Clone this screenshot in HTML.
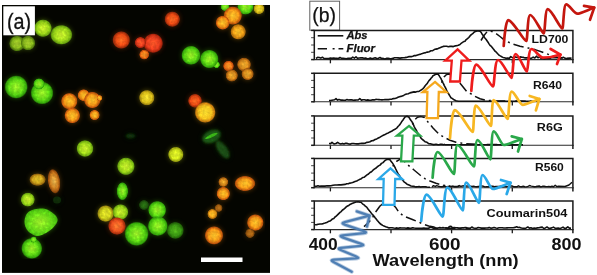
<!DOCTYPE html>
<html><head><meta charset="utf-8"><title>figure</title><style>html,body{margin:0;padding:0;background:#fff}svg{display:block}</style></head><body>
<svg width="597" height="275" viewBox="0 0 597 275" font-family="'Liberation Sans', sans-serif">
<defs>
<radialGradient id="cg" cx="50%" cy="50%" r="50%"><stop offset="0" stop-color="#a2f22a"/><stop offset="0.6" stop-color="#62de16"/><stop offset="0.88" stop-color="#34a80a"/><stop offset="1" stop-color="#34a80a" stop-opacity="0"/></radialGradient>
<radialGradient id="cgdd" cx="50%" cy="50%" r="50%"><stop offset="0" stop-color="#2c7814"/><stop offset="0.6" stop-color="#246410"/><stop offset="0.88" stop-color="#18400a"/><stop offset="1" stop-color="#18400a" stop-opacity="0"/></radialGradient>
<radialGradient id="cgd" cx="50%" cy="50%" r="50%"><stop offset="0" stop-color="#55b81c"/><stop offset="0.6" stop-color="#3a9a12"/><stop offset="0.88" stop-color="#246808"/><stop offset="1" stop-color="#246808" stop-opacity="0"/></radialGradient>
<radialGradient id="cyg" cx="50%" cy="50%" r="50%"><stop offset="0" stop-color="#ccf030"/><stop offset="0.6" stop-color="#a6e01c"/><stop offset="0.88" stop-color="#6ca810"/><stop offset="1" stop-color="#6ca810" stop-opacity="0"/></radialGradient>
<radialGradient id="cygd" cx="50%" cy="50%" r="50%"><stop offset="0" stop-color="#a8d02c"/><stop offset="0.6" stop-color="#88b81c"/><stop offset="0.88" stop-color="#507c0c"/><stop offset="1" stop-color="#507c0c" stop-opacity="0"/></radialGradient>
<radialGradient id="cy" cx="50%" cy="50%" r="50%"><stop offset="0" stop-color="#f4e034"/><stop offset="0.6" stop-color="#e4c81c"/><stop offset="0.88" stop-color="#a88c10"/><stop offset="1" stop-color="#a88c10" stop-opacity="0"/></radialGradient>
<radialGradient id="cyo" cx="50%" cy="50%" r="50%"><stop offset="0" stop-color="#fcc42c"/><stop offset="0.6" stop-color="#f4a418"/><stop offset="0.88" stop-color="#b06c0c"/><stop offset="1" stop-color="#b06c0c" stop-opacity="0"/></radialGradient>
<radialGradient id="co" cx="50%" cy="50%" r="50%"><stop offset="0" stop-color="#fcc62c"/><stop offset="0.6" stop-color="#f89c18"/><stop offset="0.88" stop-color="#c4560c"/><stop offset="1" stop-color="#c4560c" stop-opacity="0"/></radialGradient>
<radialGradient id="cod" cx="50%" cy="50%" r="50%"><stop offset="0" stop-color="#c87c1c"/><stop offset="0.6" stop-color="#a86010"/><stop offset="0.88" stop-color="#70400a"/><stop offset="1" stop-color="#70400a" stop-opacity="0"/></radialGradient>
<radialGradient id="cro" cx="50%" cy="50%" r="50%"><stop offset="0" stop-color="#fc6c24"/><stop offset="0.6" stop-color="#f04c14"/><stop offset="0.88" stop-color="#a02c0a"/><stop offset="1" stop-color="#a02c0a" stop-opacity="0"/></radialGradient>
<radialGradient id="cr" cx="50%" cy="50%" r="50%"><stop offset="0" stop-color="#fc5828"/><stop offset="0.6" stop-color="#f04020"/><stop offset="0.88" stop-color="#a8240c"/><stop offset="1" stop-color="#a8240c" stop-opacity="0"/></radialGradient>
<radialGradient id="co2" cx="50%" cy="50%" r="50%"><stop offset="0" stop-color="#fc9c28"/><stop offset="0.6" stop-color="#f07818"/><stop offset="0.88" stop-color="#b8440a"/><stop offset="1" stop-color="#b8440a" stop-opacity="0"/></radialGradient>
<radialGradient id="cob" cx="50%" cy="50%" r="50%"><stop offset="0" stop-color="#f0b030"/><stop offset="0.6" stop-color="#dc8c1c"/><stop offset="0.88" stop-color="#9c540c"/><stop offset="1" stop-color="#9c540c" stop-opacity="0"/></radialGradient>
<radialGradient id="cyy" cx="50%" cy="50%" r="50%"><stop offset="0" stop-color="#fce030"/><stop offset="0.6" stop-color="#f8c820"/><stop offset="0.88" stop-color="#d08010"/><stop offset="1" stop-color="#d08010" stop-opacity="0"/></radialGradient>
<radialGradient id="cyd" cx="50%" cy="50%" r="50%"><stop offset="0" stop-color="#e4c428"/><stop offset="0.6" stop-color="#d0a41c"/><stop offset="0.88" stop-color="#90600c"/><stop offset="1" stop-color="#90600c" stop-opacity="0"/></radialGradient>
<radialGradient id="coe" cx="50%" cy="50%" r="50%"><stop offset="0" stop-color="#e8b850"/><stop offset="0.6" stop-color="#d08020"/><stop offset="0.88" stop-color="#984c0c"/><stop offset="1" stop-color="#984c0c" stop-opacity="0"/></radialGradient>
<radialGradient id="cro2" cx="50%" cy="50%" r="50%"><stop offset="0" stop-color="#fc8030"/><stop offset="0.6" stop-color="#f05420"/><stop offset="0.88" stop-color="#b0300c"/><stop offset="1" stop-color="#b0300c" stop-opacity="0"/></radialGradient>
<radialGradient id="cy3" cx="50%" cy="50%" r="50%"><stop offset="0" stop-color="#e4f42c"/><stop offset="0.6" stop-color="#d0e41c"/><stop offset="0.88" stop-color="#98a010"/><stop offset="1" stop-color="#98a010" stop-opacity="0"/></radialGradient>
<radialGradient id="cy2" cx="50%" cy="50%" r="50%"><stop offset="0" stop-color="#e4e42c"/><stop offset="0.6" stop-color="#d0d41c"/><stop offset="0.88" stop-color="#a08c10"/><stop offset="1" stop-color="#a08c10" stop-opacity="0"/></radialGradient>
<filter id="bl" x="0" y="0" width="100%" height="100%" color-interpolation-filters="sRGB"><feGaussianBlur in="SourceGraphic" stdDeviation="0.7" result="b"/><feTurbulence type="fractalNoise" baseFrequency="0.35" numOctaves="2" seed="3" result="n"/><feColorMatrix in="n" type="matrix" values="0 0 0 0 1  0 0 0 0 1  0 0 0 0 1  1.6 0 0 0 -0.25" result="m"/><feComposite in="b" in2="m" operator="arithmetic" k1="0.3" k2="0.8" k3="0" k4="0"/></filter>
<radialGradient id="cgflat" cx="48%" cy="50%" r="58%"><stop offset="0" stop-color="#a0f02a"/><stop offset="0.65" stop-color="#62dc16"/><stop offset="1" stop-color="#34a40a"/></radialGradient>
<filter id="bl2" x="-20%" y="-20%" width="140%" height="140%"><feGaussianBlur stdDeviation="1.3"/></filter>
<filter id="glow" x="0" y="0" width="100%" height="100%"><feGaussianBlur stdDeviation="2.6"/></filter>
<filter id="sh" x="-20%" y="-20%" width="140%" height="140%"><feGaussianBlur stdDeviation="0.7"/></filter>
<clipPath id="cpA"><rect x="2" y="5" width="268" height="267.9"/></clipPath>
</defs>
<rect width="100%" height="100%" fill="#fff"/>
<rect x="2" y="5" width="268" height="267.9" fill="#040500"/>
<g clip-path="url(#cpA)"><g filter="url(#glow)" opacity="0.45"><use href="#cells"/></g><g filter="url(#bl)"><g id="cells">
<g filter="url(#bl2)"><ellipse cx="211.5" cy="136.5" rx="9.5" ry="5.8" fill="#1f5c14" transform="rotate(-25 211.5 136.5)"/><ellipse cx="222.7" cy="149.7" rx="4.3" ry="10" fill="#1b5012" transform="rotate(-35 222.7 149.7)"/><ellipse cx="130.5" cy="136" rx="4.5" ry="2.2" fill="#123608"/></g>
<ellipse cx="211.4" cy="135.9" rx="6.8" ry="1.5" fill="#3cba18" transform="rotate(-24.5 211.4 135.9)"/>
<ellipse cx="54" cy="181.3" rx="6.3" ry="12.6" fill="url(#coe)" transform="rotate(-8 54 181.3)"/><ellipse cx="57" cy="200" rx="4" ry="3.5" fill="#0f2c08"/>
<path d="M24.5,221.5 C24.7,218.2 25.9,213.7 29,211.5 C32.1,209.3 38.8,208.1 43,208.5 C47.2,208.9 51.6,211.9 54,214 C56.4,216.1 58.1,218.3 57.5,221 C56.9,223.7 53.8,227.5 50.5,230 C47.2,232.5 41.8,235.8 38,236 C34.2,236.2 30.2,233.4 28,231 C25.8,228.6 24.3,224.8 24.5,221.5Z" fill="url(#cgflat)"/>
<circle cx="43" cy="28.2" r="9.0" fill="url(#cyg)"/>
<ellipse cx="61.4" cy="34.8" rx="11.2" ry="10.0" fill="url(#cyg)"/>
<circle cx="17" cy="43.5" r="8.0" fill="url(#cygd)"/>
<circle cx="28" cy="43" r="7.5" fill="url(#cygd)"/>
<circle cx="16.2" cy="87" r="11.7" fill="url(#cg)"/>
<circle cx="42" cy="93" r="11.5" fill="url(#cg)"/>
<circle cx="39" cy="84" r="5.8" fill="url(#cg)"/>
<circle cx="69.3" cy="101.2" r="8.4" fill="url(#co)"/>
<circle cx="83.6" cy="95.2" r="6.1" fill="url(#co)"/>
<circle cx="92.3" cy="100" r="8.5" fill="url(#co)"/>
<circle cx="99.5" cy="98" r="3.0" fill="url(#co)"/>
<circle cx="72.3" cy="115.5" r="8.0" fill="url(#co)"/>
<circle cx="94.6" cy="115" r="5.3" fill="url(#co)"/>
<circle cx="121.3" cy="40" r="9.0" fill="url(#cro)"/>
<circle cx="153.2" cy="43.2" r="10.0" fill="url(#cr)"/>
<circle cx="140.4" cy="42.6" r="5.8" fill="url(#cr)"/>
<circle cx="144.2" cy="54.6" r="5.1" fill="url(#co2)"/>
<circle cx="172.3" cy="19.2" r="7.9" fill="url(#cro)"/>
<circle cx="245.5" cy="6.5" r="8.3" fill="url(#cg)"/>
<circle cx="216.6" cy="64.8" r="3.4" fill="url(#cg)"/>
<circle cx="225" cy="6.5" r="4.6" fill="url(#cg)"/>
<circle cx="259" cy="8.7" r="5.6" fill="url(#cy)"/>
<circle cx="232.8" cy="15.6" r="9.4" fill="url(#co)"/>
<circle cx="222.7" cy="22.7" r="7.2" fill="url(#co)"/>
<circle cx="238.2" cy="31.8" r="7.9" fill="url(#cyo)"/>
<circle cx="191" cy="55.3" r="9.7" fill="url(#cg)"/>
<circle cx="209.3" cy="59" r="9.4" fill="url(#cg)"/>
<circle cx="228.5" cy="66" r="5.5" fill="url(#co2)"/>
<circle cx="244" cy="64.5" r="7.1" fill="url(#cob)"/>
<circle cx="247.6" cy="74" r="6.3" fill="url(#cob)"/>
<circle cx="231.8" cy="75.5" r="6.3" fill="url(#cob)"/>
<circle cx="146.8" cy="97.7" r="7.9" fill="url(#cy)"/>
<circle cx="195" cy="100.8" r="7.1" fill="url(#cro)"/>
<circle cx="205.2" cy="112.4" r="10.6" fill="url(#cyy)"/>
<circle cx="85" cy="148.5" r="8.6" fill="url(#cyg)"/>
<circle cx="175.8" cy="154.5" r="7.9" fill="url(#cy3)"/>
<circle cx="125.9" cy="166.3" r="9.0" fill="url(#cyg)"/>
<ellipse cx="37.6" cy="179.6" rx="8.4" ry="6.4" fill="url(#cyd)"/>
<circle cx="27.8" cy="199.6" r="7.2" fill="url(#cyg)"/>
<circle cx="31.8" cy="248.4" r="10.6" fill="url(#cg)"/>
<circle cx="33.6" cy="239.6" r="3.2" fill="url(#cg)"/>
<circle cx="105.6" cy="213.6" r="8.5" fill="url(#cy2)"/>
<ellipse cx="122.4" cy="191.2" rx="5.8" ry="9.2" fill="url(#cg)"/>
<circle cx="120.5" cy="212" r="8.0" fill="url(#cyg)"/>
<circle cx="117" cy="226" r="9.0" fill="url(#cro2)"/>
<circle cx="136.6" cy="233.8" r="12.2" fill="url(#cg)"/>
<circle cx="157.2" cy="210" r="9.2" fill="url(#cg)"/>
<circle cx="157.8" cy="226" r="10.1" fill="url(#cg)"/>
<circle cx="175.3" cy="230.4" r="8.7" fill="url(#cgd)"/>
<circle cx="144" cy="205" r="5.2" fill="url(#cgdd)"/>
<ellipse cx="245" cy="183.5" rx="10.6" ry="7.8" fill="url(#co)"/>
<circle cx="223.3" cy="193.6" r="6.9" fill="url(#co)"/>
<circle cx="223.3" cy="182" r="5.1" fill="url(#cob)"/>
<circle cx="212.4" cy="214" r="5.2" fill="url(#cyo)"/>
<circle cx="218.6" cy="208" r="4.1" fill="url(#cod)"/>
<circle cx="255.3" cy="222.6" r="8.5" fill="url(#co)"/>
<circle cx="250" cy="233.3" r="4.9" fill="url(#cod)"/>
<circle cx="214" cy="235.4" r="9.4" fill="url(#co)"/>
</g></g></g>
<rect x="201" y="257.5" width="41.5" height="4.5" fill="#fff"/>
<rect x="3.3" y="6.3" width="31.6" height="29" fill="#fff"/>
<text x="7" y="29.4" font-size="21.4" fill="#111" stroke="#111" stroke-width="0.3" textLength="24.2" lengthAdjust="spacingAndGlyphs">(a)</text>
<rect x="309.8" y="1.2" width="29.8" height="29" fill="#fff" stroke="#606060" stroke-width="1"/>
<text x="312.3" y="22.4" font-size="20.5" fill="#111" stroke="#111" stroke-width="0.25" textLength="23.8" lengthAdjust="spacingAndGlyphs">(b)</text>
<rect x="314.3" y="30.4" width="258.6" height="29.2" fill="#fff"/>
<path d="M314.3,60.1 V30.4 H572.9 V60.1" fill="none" stroke="#1a1a1a" stroke-width="1.5"/>
<line x1="313.6" y1="59.6" x2="573.6" y2="59.6" stroke="#2a2a2a" stroke-width="1.05"/>
<line x1="311.1" y1="30.4" x2="314.3" y2="30.4" stroke="#1a1a1a" stroke-width="1.5" stroke-opacity="1"/>
<line x1="311.1" y1="37.7" x2="314.3" y2="37.7" stroke="#1a1a1a" stroke-width="1" stroke-opacity="0.8"/>
<line x1="311.1" y1="45.0" x2="314.3" y2="45.0" stroke="#1a1a1a" stroke-width="1" stroke-opacity="0.8"/>
<line x1="311.1" y1="52.3" x2="314.3" y2="52.3" stroke="#1a1a1a" stroke-width="1" stroke-opacity="0.8"/>
<line x1="311.1" y1="59.6" x2="314.3" y2="59.6" stroke="#1a1a1a" stroke-width="1.5" stroke-opacity="1"/>
<line x1="330.4" y1="59.6" x2="330.4" y2="63.300000000000004" stroke="#1a1a1a" stroke-width="1.3"/>
<line x1="391.0" y1="59.6" x2="391.0" y2="63.300000000000004" stroke="#1a1a1a" stroke-width="1.3"/>
<line x1="451.6" y1="59.6" x2="451.6" y2="63.300000000000004" stroke="#1a1a1a" stroke-width="1.3"/>
<line x1="512.3" y1="59.6" x2="512.3" y2="63.300000000000004" stroke="#1a1a1a" stroke-width="1.3"/>
<line x1="572.9" y1="59.6" x2="572.9" y2="63.300000000000004" stroke="#1a1a1a" stroke-width="1.5"/>
<path d="M316.0,58.5 L317.6,57.4 L319.2,57.5 L320.8,58.1 L322.4,57.2 L324.0,58.5 L325.6,58.5 L327.2,58.5 L328.8,58.5 L330.4,58.1 L332.0,58.4 L333.6,58.0 L335.2,58.4 L336.8,58.4 L338.4,58.5 L340.0,57.5 L341.6,58.4 L343.2,58.2 L344.8,58.5 L346.4,58.8 L348.0,58.4 L349.6,58.3 L351.2,58.4 L352.8,57.1 L354.4,58.1 L356.0,56.9 L357.6,58.3 L359.2,58.0 L360.8,57.9 L362.4,57.9 L364.0,58.2 L365.6,58.1 L367.2,58.8 L368.8,58.5 L370.4,58.1 L372.0,58.7 L373.6,58.2 L375.2,57.7 L376.8,58.5 L378.4,58.2 L380.0,57.5 L381.6,58.5 L383.2,58.4 L384.8,58.9 L386.4,58.4 L388.0,58.2 L389.6,58.5 L391.2,58.7 L392.8,58.4 L394.4,57.8 L396.3,57.8 L398.1,57.9 L400.0,58.1 L401.6,57.9 L403.2,57.7 L404.8,57.6 L406.4,57.4 L408.0,56.9 L409.6,56.5 L411.2,56.6 L412.8,56.2 L414.4,55.5 L416.0,55.6 L417.6,55.0 L419.2,54.5 L420.8,54.1 L422.4,53.6 L424.0,53.0 L425.8,52.6 L427.5,52.1 L429.2,51.8 L431.0,50.8 L432.7,50.7 L434.3,49.6 L436.0,49.1 L438.0,48.6 L440.0,47.8 L441.7,47.1 L443.3,46.4 L445.0,46.2 L446.7,46.3 L448.3,46.7 L450.0,46.4 L451.7,46.4 L453.3,46.6 L455.0,45.9 L456.7,45.6 L458.3,45.2 L460.0,44.5 L461.2,43.3 L462.5,42.4 L463.8,41.6 L465.0,41.2 L466.2,39.6 L467.5,38.6 L468.8,37.5 L470.0,35.9 L471.3,34.6 L472.7,33.7 L474.0,32.3 L475.5,31.4 L477.0,30.9 L478.5,30.9 L480.0,31.1 L481.0,32.2 L482.0,33.9 L483.0,35.2 L484.0,36.6 L485.0,38.2 L486.0,39.2 L487.0,40.7 L488.0,42.2 L489.0,43.9 L490.0,45.3 L491.0,46.1 L492.0,47.3 L493.0,48.6 L494.0,49.8 L495.0,51.2 L496.3,52.2 L497.7,53.8 L499.0,55.1 L500.3,55.9 L501.7,56.7 L503.0,57.4 L504.5,57.8 L506.0,58.3 L507.6,58.1 L509.2,58.4 L510.8,56.6 L512.4,57.7 L514.0,57.9 L515.6,56.9 L517.2,57.4 L518.8,57.7 L520.4,56.9 L522.0,57.3 L523.6,57.4 L525.2,57.9 L526.8,57.9 L528.4,57.6 L530.0,58.2 L531.6,58.2 L533.2,57.1 L534.8,58.0 L536.4,56.2 L538.0,57.8 L539.6,57.1 L541.2,58.3 L542.8,58.2 L544.4,58.6 L546.0,58.3 L547.6,58.0 L549.2,58.3 L550.8,58.1 L552.4,57.6 L554.0,57.7 L555.6,57.8 L557.2,57.8 L558.8,58.0 L560.4,58.2 L562.0,57.7 L563.6,57.3 L565.2,58.4 L566.8,58.6 L568.4,58.4 L570.0,58.0 L571.6,58.3" fill="none" stroke="#111" stroke-width="1.6" stroke-linejoin="round"/>
<path d="M481.0,40.5 L484.0,35.5 L487.0,31.8 L489.0,30.9 L492.0,31.5 L496.0,33.5 L500.0,36.5 L505.0,40.5 L512.0,43.8 L520.0,46.2 L528.0,48.0 L535.0,49.6 L542.0,52.0 L550.0,55.0 L557.0,57.0 L565.0,58.2 L572.0,58.6" fill="none" stroke="#111" stroke-width="1.5" stroke-dasharray="10.5 4 2 4" stroke-dashoffset="0.0" stroke-linejoin="round"/>
<rect x="314.3" y="73.3" width="258.6" height="28.5" fill="#fff"/>
<path d="M314.3,102.3 V73.3 H572.9 V102.3" fill="none" stroke="#1a1a1a" stroke-width="1.5"/>
<line x1="313.6" y1="101.8" x2="573.6" y2="101.8" stroke="#2a2a2a" stroke-width="1.05"/>
<line x1="311.1" y1="73.3" x2="314.3" y2="73.3" stroke="#1a1a1a" stroke-width="1.5" stroke-opacity="1"/>
<line x1="311.1" y1="80.4" x2="314.3" y2="80.4" stroke="#1a1a1a" stroke-width="1" stroke-opacity="0.8"/>
<line x1="311.1" y1="87.5" x2="314.3" y2="87.5" stroke="#1a1a1a" stroke-width="1" stroke-opacity="0.8"/>
<line x1="311.1" y1="94.7" x2="314.3" y2="94.7" stroke="#1a1a1a" stroke-width="1" stroke-opacity="0.8"/>
<line x1="311.1" y1="101.8" x2="314.3" y2="101.8" stroke="#1a1a1a" stroke-width="1.5" stroke-opacity="1"/>
<line x1="330.4" y1="101.8" x2="330.4" y2="105.5" stroke="#1a1a1a" stroke-width="1.3"/>
<line x1="391.0" y1="101.8" x2="391.0" y2="105.5" stroke="#1a1a1a" stroke-width="1.3"/>
<line x1="451.6" y1="101.8" x2="451.6" y2="105.5" stroke="#1a1a1a" stroke-width="1.3"/>
<line x1="512.3" y1="101.8" x2="512.3" y2="105.5" stroke="#1a1a1a" stroke-width="1.3"/>
<line x1="572.9" y1="101.8" x2="572.9" y2="105.5" stroke="#1a1a1a" stroke-width="1.5"/>
<path d="M329.0,100.6 L330.5,100.5 L332.0,100.2 L334.5,99.8 L336.0,98.7 L337.5,100.1 L339.0,99.5 L340.6,100.1 L342.2,100.0 L343.8,100.3 L345.4,100.2 L347.0,99.6 L348.6,100.0 L350.2,99.7 L351.8,99.9 L353.4,100.2 L355.0,100.1 L356.6,100.0 L358.2,100.0 L359.8,98.7 L361.4,100.1 L363.0,99.7 L364.6,99.7 L366.2,100.3 L367.8,99.9 L369.4,100.2 L371.0,100.2 L372.6,99.7 L374.2,99.9 L375.8,99.4 L377.3,99.5 L378.9,99.6 L380.4,99.8 L381.9,99.9 L383.5,99.7 L385.0,99.6 L386.8,99.6 L388.5,99.6 L390.2,99.2 L392.0,99.1 L393.5,98.6 L395.0,98.5 L396.5,98.0 L398.0,97.3 L399.4,96.7 L400.8,96.4 L402.2,95.9 L403.6,95.4 L405.0,94.6 L406.7,94.0 L408.3,93.7 L410.0,92.9 L412.0,92.4 L414.0,91.9 L415.7,92.1 L417.3,91.5 L419.0,91.4 L420.5,90.4 L422.0,89.5 L423.0,88.6 L424.0,87.5 L425.0,86.0 L426.0,84.8 L427.0,83.8 L428.0,82.1 L429.0,80.6 L430.0,79.7 L431.0,78.2 L432.0,77.2 L433.0,75.7 L434.5,75.1 L436.0,73.9 L438.0,74.1 L439.0,75.4 L440.0,77.1 L441.0,78.6 L441.7,80.1 L442.3,81.1 L443.0,82.8 L443.7,84.1 L444.3,85.6 L445.0,86.8 L445.8,88.4 L446.5,90.0 L447.2,91.7 L448.0,92.8 L449.0,94.5 L450.0,96.2 L451.0,97.8 L452.5,98.6 L454.0,99.8 L456.0,100.7 L458.0,101.3" fill="none" stroke="#111" stroke-width="1.6" stroke-linejoin="round"/>
<path d="M458.0,101.2 L540.0,101.3" fill="none" stroke="#111" stroke-width="1.4" stroke-linejoin="round"/>
<path d="M436.5,100.0 L439.0,92.0 L440.8,85.0 L442.5,80.0 L444.0,77.0 L446.0,74.9 L448.3,74.1 L451.0,74.7 L455.0,77.5 L458.5,81.5 L461.5,85.0 L466.5,91.2 L471.5,94.2 L475.0,96.4 L480.0,98.8 L486.0,100.2 L495.0,100.8 L520.0,101.1 L540.0,101.3" fill="none" stroke="#111" stroke-width="1.5" stroke-dasharray="10.5 4 2 4" stroke-dashoffset="16.9" stroke-linejoin="round"/>
<rect x="314.3" y="115.9" width="258.6" height="29.4" fill="#fff"/>
<path d="M314.3,145.8 V115.9 H572.9 V145.8" fill="none" stroke="#1a1a1a" stroke-width="1.5"/>
<line x1="313.6" y1="145.3" x2="573.6" y2="145.3" stroke="#2a2a2a" stroke-width="1.05"/>
<line x1="311.1" y1="115.9" x2="314.3" y2="115.9" stroke="#1a1a1a" stroke-width="1.5" stroke-opacity="1"/>
<line x1="311.1" y1="123.2" x2="314.3" y2="123.2" stroke="#1a1a1a" stroke-width="1" stroke-opacity="0.8"/>
<line x1="311.1" y1="130.6" x2="314.3" y2="130.6" stroke="#1a1a1a" stroke-width="1" stroke-opacity="0.8"/>
<line x1="311.1" y1="138.0" x2="314.3" y2="138.0" stroke="#1a1a1a" stroke-width="1" stroke-opacity="0.8"/>
<line x1="311.1" y1="145.3" x2="314.3" y2="145.3" stroke="#1a1a1a" stroke-width="1.5" stroke-opacity="1"/>
<line x1="330.4" y1="145.3" x2="330.4" y2="149.0" stroke="#1a1a1a" stroke-width="1.3"/>
<line x1="391.0" y1="145.3" x2="391.0" y2="149.0" stroke="#1a1a1a" stroke-width="1.3"/>
<line x1="451.6" y1="145.3" x2="451.6" y2="149.0" stroke="#1a1a1a" stroke-width="1.3"/>
<line x1="512.3" y1="145.3" x2="512.3" y2="149.0" stroke="#1a1a1a" stroke-width="1.3"/>
<line x1="572.9" y1="145.3" x2="572.9" y2="149.0" stroke="#1a1a1a" stroke-width="1.5"/>
<path d="M329.0,143.5 L330.6,143.6 L332.0,142.3 L334.0,144.0 L336.0,143.5 L337.6,142.4 L339.2,143.4 L340.8,143.9 L342.4,143.4 L344.0,144.0 L345.6,143.3 L347.2,143.4 L348.8,144.0 L350.4,144.1 L352.0,143.5 L353.6,143.5 L355.2,143.7 L356.8,143.9 L358.4,143.9 L360.1,143.5 L361.7,143.4 L363.4,143.4 L365.0,143.3 L366.7,142.4 L368.3,142.2 L370.0,141.8 L371.7,140.8 L373.3,140.6 L375.0,139.5 L376.7,138.9 L378.3,138.0 L380.0,137.2 L381.7,136.1 L383.3,135.3 L385.0,134.5 L386.7,133.6 L388.3,132.9 L390.0,132.0 L392.0,131.0 L394.0,129.7 L395.5,129.0 L397.0,127.8 L398.0,126.5 L399.0,125.5 L400.0,124.4 L401.0,122.8 L402.0,121.2 L403.0,120.0 L404.0,118.4 L405.0,117.1 L407.0,116.3 L409.0,117.3 L410.0,119.0 L411.0,120.5 L412.0,121.7 L412.8,123.6 L413.5,124.8 L414.2,126.6 L415.0,128.2 L415.8,129.4 L416.5,130.5 L417.2,132.1 L418.0,133.4 L419.0,135.3 L420.0,136.3 L421.0,138.2 L422.3,139.4 L423.7,140.5 L425.0,141.7 L427.0,142.3 L429.0,143.8 L431.0,143.9 L433.0,144.6 L434.5,144.6 L436.0,144.2 L437.5,144.6 L439.0,144.7 L440.5,144.2 L442.0,144.4 L443.5,144.7 L445.0,144.4" fill="none" stroke="#111" stroke-width="1.6" stroke-linejoin="round"/>
<path d="M445.0,144.7 L523.0,144.8" fill="none" stroke="#111" stroke-width="1.4" stroke-linejoin="round"/>
<path d="M404.0,144.0 L408.0,136.0 L411.5,127.0 L414.5,120.0 L417.5,117.2 L421.0,116.6 L424.5,117.6 L428.0,122.0 L433.0,128.0 L439.0,134.2 L445.0,137.8 L450.0,140.2 L456.0,142.2 L465.0,143.6 L480.0,144.4 L523.0,144.8" fill="none" stroke="#111" stroke-width="1.5" stroke-dasharray="10.5 4 2 4" stroke-dashoffset="13.7" stroke-linejoin="round"/>
<rect x="314.3" y="158.4" width="258.6" height="29.3" fill="#fff"/>
<path d="M314.3,188.2 V158.4 H572.9 V188.2" fill="none" stroke="#1a1a1a" stroke-width="1.5"/>
<line x1="313.6" y1="187.7" x2="573.6" y2="187.7" stroke="#2a2a2a" stroke-width="1.05"/>
<line x1="311.1" y1="158.4" x2="314.3" y2="158.4" stroke="#1a1a1a" stroke-width="1.5" stroke-opacity="1"/>
<line x1="311.1" y1="165.7" x2="314.3" y2="165.7" stroke="#1a1a1a" stroke-width="1" stroke-opacity="0.8"/>
<line x1="311.1" y1="173.1" x2="314.3" y2="173.1" stroke="#1a1a1a" stroke-width="1" stroke-opacity="0.8"/>
<line x1="311.1" y1="180.4" x2="314.3" y2="180.4" stroke="#1a1a1a" stroke-width="1" stroke-opacity="0.8"/>
<line x1="311.1" y1="187.7" x2="314.3" y2="187.7" stroke="#1a1a1a" stroke-width="1.5" stroke-opacity="1"/>
<line x1="330.4" y1="187.7" x2="330.4" y2="191.39999999999998" stroke="#1a1a1a" stroke-width="1.3"/>
<line x1="391.0" y1="187.7" x2="391.0" y2="191.39999999999998" stroke="#1a1a1a" stroke-width="1.3"/>
<line x1="451.6" y1="187.7" x2="451.6" y2="191.39999999999998" stroke="#1a1a1a" stroke-width="1.3"/>
<line x1="512.3" y1="187.7" x2="512.3" y2="191.39999999999998" stroke="#1a1a1a" stroke-width="1.3"/>
<line x1="572.9" y1="187.7" x2="572.9" y2="191.39999999999998" stroke="#1a1a1a" stroke-width="1.5"/>
<path d="M315.0,186.4 L316.5,186.3 L318.0,185.7 L319.5,186.2 L321.0,186.1 L323.0,186.1 L325.0,186.1 L327.0,185.8 L329.0,185.9 L331.0,185.7 L333.0,185.2 L335.0,185.0 L337.0,185.0 L339.0,184.8 L341.0,184.9 L343.0,184.6 L345.0,184.4 L346.7,183.7 L348.3,183.8 L350.0,183.1 L351.7,182.8 L353.3,182.2 L355.0,181.5 L356.7,181.0 L358.3,180.1 L360.0,179.3 L361.3,178.7 L362.7,177.5 L364.0,177.3 L365.5,176.1 L367.0,174.9 L368.5,174.0 L370.0,172.5 L371.5,171.7 L373.0,170.2 L374.3,169.1 L375.7,168.3 L377.0,167.2 L378.5,165.9 L380.0,165.1 L381.5,163.4 L383.0,162.6 L385.0,160.5 L387.0,159.4 L388.5,159.2 L390.0,159.7 L391.0,161.2 L392.0,162.4 L393.0,163.9 L394.0,165.6 L395.0,167.4 L395.8,169.1 L396.5,170.5 L397.2,172.0 L398.0,173.7 L399.0,174.9 L400.0,176.5 L401.0,178.4 L402.0,179.3 L403.0,180.5 L404.0,181.9 L405.5,182.9 L407.0,184.2 L409.0,185.0 L411.0,186.0 L412.7,186.3 L414.3,186.4 L416.0,186.9 L417.6,186.8 L419.1,186.6 L420.7,187.1 L422.2,186.7 L423.8,186.7 L425.3,186.7 L426.9,187.0 L428.4,187.2 L430.0,187.2" fill="none" stroke="#111" stroke-width="1.6" stroke-linejoin="round"/>
<path d="M432.0,186.9 L433.6,185.6 L435.2,186.5 L436.8,185.7 L438.4,186.3 L440.0,186.6 L441.6,186.8 L443.2,186.5 L444.8,186.2 L446.4,186.9 L448.0,186.5 L449.6,186.2 L451.2,186.7 L452.8,186.2 L454.4,186.8 L456.0,186.7 L457.6,186.6 L459.2,185.5 L460.8,186.4 L462.4,186.0 L464.0,185.8 L465.6,186.3 L467.2,185.9 L468.8,186.4 L470.4,186.1 L472.0,186.4 L473.6,186.1 L475.2,186.6 L476.8,186.8 L478.4,186.5 L480.0,186.2 L481.6,185.9 L483.2,186.2 L484.8,186.9 L486.4,186.8 L488.0,186.8 L489.6,186.5 L491.2,186.2 L492.8,186.2 L494.4,186.7 L496.0,186.5 L497.6,186.4 L499.2,186.4 L500.8,186.2 L502.4,186.9 L504.0,186.5 L505.6,186.6 L507.2,186.7 L508.8,186.3 L510.4,186.0 L512.0,186.0 L513.6,186.7 L515.2,186.7 L516.8,186.8 L518.4,185.8 L520.0,186.6 L521.6,186.7 L523.2,186.3 L524.8,186.7 L526.4,186.9 L528.0,186.4 L529.6,185.5 L531.2,186.1 L532.8,186.4 L534.4,186.7 L536.0,186.5 L537.6,186.2 L539.2,186.0 L540.8,186.8 L542.4,186.3 L544.0,186.3 L545.6,186.5 L547.2,186.6 L548.8,186.4 L550.4,186.7 L552.0,186.3 L553.6,186.7 L555.2,185.3 L556.8,186.6 L558.4,186.3 L565.0,186.5 L569.0,185.0 L572.0,182.3" fill="none" stroke="#111" stroke-width="1.4" stroke-linejoin="round"/>
<path d="M385.0,182.0 L389.0,174.0 L393.0,166.0 L397.0,161.0 L400.0,159.3 L404.0,161.0 L408.0,165.0 L414.0,170.0 L420.0,175.0 L425.0,178.7 L430.0,181.0 L436.0,183.2 L442.0,185.0 L450.0,186.2 L470.0,186.8" fill="none" stroke="#111" stroke-width="1.5" stroke-dasharray="10.5 4 2 4" stroke-dashoffset="17.6" stroke-linejoin="round"/>
<rect x="314.3" y="201" width="258.6" height="28.6" fill="#fff"/>
<path d="M314.3,230.1 V201 H572.9 V230.1" fill="none" stroke="#1a1a1a" stroke-width="1.5"/>
<line x1="313.6" y1="229.6" x2="573.6" y2="229.6" stroke="#2a2a2a" stroke-width="1.05"/>
<line x1="311.1" y1="201.0" x2="314.3" y2="201.0" stroke="#1a1a1a" stroke-width="1.5" stroke-opacity="1"/>
<line x1="311.1" y1="208.2" x2="314.3" y2="208.2" stroke="#1a1a1a" stroke-width="1" stroke-opacity="0.8"/>
<line x1="311.1" y1="215.3" x2="314.3" y2="215.3" stroke="#1a1a1a" stroke-width="1" stroke-opacity="0.8"/>
<line x1="311.1" y1="222.4" x2="314.3" y2="222.4" stroke="#1a1a1a" stroke-width="1" stroke-opacity="0.8"/>
<line x1="311.1" y1="229.6" x2="314.3" y2="229.6" stroke="#1a1a1a" stroke-width="1.5" stroke-opacity="1"/>
<line x1="330.4" y1="229.6" x2="330.4" y2="233.29999999999998" stroke="#1a1a1a" stroke-width="1.3"/>
<line x1="391.0" y1="229.6" x2="391.0" y2="233.29999999999998" stroke="#1a1a1a" stroke-width="1.3"/>
<line x1="451.6" y1="229.6" x2="451.6" y2="233.29999999999998" stroke="#1a1a1a" stroke-width="1.3"/>
<line x1="512.3" y1="229.6" x2="512.3" y2="233.29999999999998" stroke="#1a1a1a" stroke-width="1.3"/>
<line x1="572.9" y1="229.6" x2="572.9" y2="233.29999999999998" stroke="#1a1a1a" stroke-width="1.5"/>
<path d="M315.0,224.8 L316.7,224.6 L318.3,224.3 L320.0,224.0 L321.7,224.0 L323.3,223.6 L325.0,223.1 L326.7,222.5 L328.3,221.6 L330.0,221.0 L331.2,220.1 L332.5,218.9 L333.8,218.4 L335.0,217.0 L336.2,216.1 L337.5,214.9 L338.8,213.6 L340.0,212.4 L341.2,211.6 L342.5,210.0 L343.8,209.2 L345.0,208.2 L346.2,206.9 L347.5,206.0 L348.8,205.4 L350.0,204.4 L352.0,203.5 L354.0,202.7 L356.0,202.0 L358.0,201.7 L359.5,202.1 L361.0,202.3 L362.5,203.8 L364.0,204.8 L365.3,206.1 L366.7,207.1 L368.0,209.0 L369.0,210.2 L370.0,211.4 L371.0,212.8 L372.0,214.0 L373.0,215.1 L374.0,216.3 L375.0,217.6 L376.0,218.7 L377.3,220.4 L378.7,222.1 L380.0,223.5 L381.3,224.5 L382.7,225.4 L384.0,226.1 L385.7,226.7 L387.3,227.2 L389.0,227.9 L390.6,227.8 L392.1,227.7 L393.7,228.0 L395.3,228.2 L396.9,227.9 L398.4,228.3 L400.0,227.9 L401.5,228.0 L403.0,228.0 L404.6,228.0 L406.2,228.2 L407.8,227.9 L409.4,228.1 L411.0,228.2 L412.6,227.7 L414.2,228.0 L415.8,228.2 L417.4,228.2 L419.0,228.2 L420.6,228.3 L422.2,228.4 L423.8,228.0 L425.4,228.4 L427.0,228.4 L428.6,228.2 L430.2,227.2 L431.8,227.5 L433.4,228.3 L435.0,227.9 L436.6,228.1 L438.2,228.1 L439.8,227.5 L441.4,228.0 L443.0,227.6 L444.6,228.0 L446.2,227.8 L447.8,228.4 L449.4,226.6 L451.0,226.4 L452.6,227.9 L454.2,227.6 L455.8,227.8 L457.4,227.9 L459.0,228.1 L460.6,228.0 L462.2,227.8 L463.8,227.9 L465.4,227.5 L467.0,227.9 L468.6,228.2 L470.2,228.4 L471.8,227.0 L473.4,228.0 L475.0,228.2 L476.6,228.3 L478.2,227.6 L479.8,227.7 L481.4,228.1 L483.0,228.0 L484.6,228.1 L486.2,228.0 L487.8,227.9 L489.4,227.6 L491.0,228.2 L492.6,227.9 L494.2,227.5 L495.8,228.0 L497.4,228.2 L499.0,227.8 L500.6,227.7 L502.2,227.7 L503.8,228.0 L505.4,228.0 L507.0,227.9 L508.6,227.8 L510.2,227.8 L511.8,227.7 L513.4,227.8 L515.0,227.4 L516.6,226.7 L518.2,227.5 L519.8,227.4 L521.4,228.0 L523.0,228.2 L524.6,228.4 L526.2,227.9 L527.8,227.0 L529.4,228.1 L531.0,227.8 L532.6,228.5 L534.2,228.0 L535.8,228.3 L537.4,227.9 L539.0,227.7 L540.6,227.4 L542.2,227.1 L543.8,228.5 L545.4,227.9 L547.0,227.0 L548.6,228.1 L550.2,228.3 L551.8,227.9 L553.4,227.1 L555.0,228.2 L556.6,228.3 L558.2,228.1 L559.8,228.5 L561.4,227.9 L563.0,227.1 L564.6,228.4 L566.2,228.2 L567.8,226.8 L569.4,228.2 L571.0,228.1" fill="none" stroke="#111" stroke-width="1.6" stroke-linejoin="round"/>
<path d="M364.0,226.6 L368.0,223.0 L372.0,218.5 L376.0,211.5 L380.0,206.0 L384.0,202.8 L388.0,201.6 L392.0,203.5 L396.0,207.8 L399.0,212.4 L403.6,216.0 L408.0,217.8 L413.0,219.8 L418.6,221.9 L423.7,224.4 L428.7,226.0 L434.0,227.0 L439.0,227.7 L450.0,228.3 L470.0,228.6" fill="none" stroke="#111" stroke-width="1.5" stroke-dasharray="10.5 4 2 4" stroke-dashoffset="1.7" stroke-linejoin="round"/>
<line x1="317.7" y1="35.8" x2="343.3" y2="35.8" stroke="#111" stroke-width="1.6"/>
<path d="M317.7,48.8 H327 M332.6,48.8 H334.6 M338.5,48.8 H343.3" stroke="#111" stroke-width="1.5" fill="none"/>
<text x="346.5" y="39" font-size="10.2" font-weight="bold" font-style="italic" fill="#111" stroke="#111" stroke-width="0.25" textLength="21" lengthAdjust="spacingAndGlyphs">Abs</text>
<text x="346.5" y="52.1" font-size="10.2" font-weight="bold" font-style="italic" fill="#111" stroke="#111" stroke-width="0.25" textLength="28.5" lengthAdjust="spacingAndGlyphs">Fluor</text>
<text x="531.6" y="42.5" font-size="11.8" font-weight="bold" fill="#111" textLength="36.8" lengthAdjust="spacingAndGlyphs">LD700</text>
<text x="533" y="88.6" font-size="11.8" font-weight="bold" fill="#111" textLength="29.0" lengthAdjust="spacingAndGlyphs">R640</text>
<text x="536.8" y="131" font-size="11.8" font-weight="bold" fill="#111" textLength="25.9" lengthAdjust="spacingAndGlyphs">R6G</text>
<text x="535" y="170.6" font-size="11.8" font-weight="bold" fill="#111" textLength="28.8" lengthAdjust="spacingAndGlyphs">R560</text>
<text x="486.6" y="216.5" font-size="11.8" font-weight="bold" fill="#111" textLength="80.8" lengthAdjust="spacingAndGlyphs">Coumarin504</text>
<text x="308.7" y="250" font-size="16" font-weight="bold" fill="#111" textLength="29.0" lengthAdjust="spacingAndGlyphs">400</text>
<text x="429" y="250" font-size="16" font-weight="bold" fill="#111" textLength="31.5" lengthAdjust="spacingAndGlyphs">600</text>
<text x="551.5" y="250" font-size="16" font-weight="bold" fill="#111" textLength="30.0" lengthAdjust="spacingAndGlyphs">800</text>
<text x="372.6" y="265.8" font-size="15.6" font-weight="bold" fill="#111" textLength="146.1" lengthAdjust="spacingAndGlyphs">Wavelength (nm)</text>
<path d="M457.6,49.4 L469.3,60.7 L461.5,60.7 L459.9,81.5 L450.2,81.5 L451.8,60.7 L445.2,60.7 Z" fill="#fff" stroke="#ee1c1c" stroke-width="2.3" stroke-linejoin="miter"/>
<path d="M435,81.9 L446.4,92 L438.8,92 L438.0,118.2 L426.59999999999997,118.2 L427.4,92 L422.8,92 Z" fill="#fff" stroke="#f5a81e" stroke-width="2.3" stroke-linejoin="miter"/>
<path d="M409,125.9 L420.2,135.7 L413.8,135.7 L412.40000000000003,161.4 L401.0,161.4 L402.4,135.7 L397,135.7 Z" fill="#fff" stroke="#2aa84a" stroke-width="2.3" stroke-linejoin="miter"/>
<path d="M390.5,168.4 L402.2,179 L395.2,179 L394.5,204.8 L383.0,204.8 L383.7,179 L378.4,179 Z" fill="#fff" stroke="#2aa8e8" stroke-width="2.3" stroke-linejoin="miter"/>
<path d="M503.7,46.0 C504.4,35.6 506.1,20.1 508.1,20.1 C513.0,20.1 523.4,41.0 526.3,41.0 C527.5,41.0 527.5,15.0 530.2,15.0 C533.9,15.0 541.7,33.5 543.9,33.5 C545.0,33.5 545.0,9.2 547.7,9.2 C551.6,9.2 560.0,28.5 562.3,28.5 C563.5,28.5 563.5,4.3 566.2,4.3 C569.2,4.3 574.1,13.7 577.4,13.7 C580.4,13.7 588.2,9.8 594.2,7.6" fill="none" stroke="#c4160e" stroke-width="2.7" stroke-linecap="round" stroke-linejoin="round"/>
<path d="M584,5.9 L594.2,7.6 L590,19.8" fill="none" stroke="#c4160e" stroke-width="2.7" stroke-linecap="round" stroke-linejoin="round"/>
<path d="M471.3,90.8 C472.0,80.3 474.0,64.6 476.2,64.6 C480.7,64.6 490.3,86.5 493.0,86.5 C494.5,86.5 494.5,60.0 498.1,60.0 C501.8,60.0 509.5,77.8 511.7,77.8 C512.9,77.8 512.9,54.0 515.7,54.0 C518.7,54.0 525.0,71.5 526.8,71.5 C528.2,71.5 528.2,49.0 531.5,49.0 C534.6,49.0 539.6,57.7 543.0,57.7 C546.0,57.7 554.5,56.8 560.5,54.6" fill="none" stroke="#ee1c1c" stroke-width="2.7" stroke-linecap="round" stroke-linejoin="round"/>
<path d="M550.6,49 L560.5,54.6 L557,64" fill="none" stroke="#ee1c1c" stroke-width="2.7" stroke-linecap="round" stroke-linejoin="round"/>
<path d="M450.0,138.2 C450.7,127.0 452.6,110.2 454.7,110.2 C459.6,110.2 469.9,132.0 472.8,132.0 C473.7,132.0 473.7,105.6 475.7,105.6 C479.8,105.6 488.6,125.8 491.0,125.8 C491.8,125.8 491.8,100.2 493.5,100.2 C497.3,100.2 505.4,118.8 507.7,118.8 C508.9,118.8 508.9,91.6 511.7,91.6 C514.7,91.6 519.5,104.8 522.7,104.8 C525.7,104.8 533.3,101.2 539.3,99.0" fill="none" stroke="#f7b722" stroke-width="2.7" stroke-linecap="round" stroke-linejoin="round"/>
<path d="M529.7,96 L539.3,99 L535.9,110.4" fill="none" stroke="#f7b722" stroke-width="2.7" stroke-linecap="round" stroke-linejoin="round"/>
<path d="M432.6,177.6 C433.3,167.4 435.3,152.0 437.5,152.0 C442.0,152.0 451.4,174.0 454.0,174.0 C455.0,174.0 455.0,145.0 457.4,145.0 C461.9,145.0 471.3,166.4 474.0,166.4 C475.1,166.4 475.1,140.0 477.5,140.0 C481.0,140.0 488.3,159.3 490.4,159.3 C491.4,159.3 491.4,131.4 493.7,131.4 C496.5,131.4 501.0,145.0 504.0,145.0 C507.0,145.0 515.8,141.2 521.8,139.0" fill="none" stroke="#2aa84a" stroke-width="2.7" stroke-linecap="round" stroke-linejoin="round"/>
<path d="M511.7,136.4 L521.8,139 L518,151.5" fill="none" stroke="#2aa84a" stroke-width="2.7" stroke-linecap="round" stroke-linejoin="round"/>
<path d="M421.2,221.0 C422.0,210.5 424.1,194.7 426.5,194.7 C430.9,194.7 440.1,216.6 442.7,216.6 C444.1,216.6 444.1,187.7 447.4,187.7 C451.6,187.7 460.3,210.3 462.8,210.3 C463.8,210.3 463.8,182.7 466.2,182.7 C469.7,182.7 477.0,202.8 479.0,202.8 C480.1,202.8 480.1,175.0 482.6,175.0 C485.4,175.0 490.0,189.0 493.0,189.0 C496.0,189.0 504.5,184.9 510.5,182.7" fill="none" stroke="#2aa8e8" stroke-width="2.7" stroke-linecap="round" stroke-linejoin="round"/>
<path d="M501,180 L510.5,182.7 L506.7,194" fill="none" stroke="#2aa8e8" stroke-width="2.7" stroke-linecap="round" stroke-linejoin="round"/>
<g filter="url(#sh)" opacity="0.4"><path d="M351.7,271.7 L333.5,262.0 Q329.5,259.9 334.0,259.7 L356.0,258.4 Q360.5,258.2 356.3,256.5 L340.7,250.0 Q336.5,248.3 341.0,247.9 L361.0,245.8 Q365.5,245.4 361.3,243.9 L342.5,237.3 Q338.3,235.8 342.8,235.3 L363.7,233.2 Q368.2,232.7 363.9,231.2 L344.6,224.7 Q340.3,223.2 344.7,222.1 L369.5,215.7" fill="none" stroke="#4f7fb4" stroke-width="4" stroke-linecap="round" stroke-linejoin="round"/><path d="M356.8,211.4 L369.5,215.7 L367,226.6" fill="none" stroke="#4f7fb4" stroke-width="4" stroke-linecap="round" stroke-linejoin="round"/></g>
<path d="M351.7,271.7 L333.5,262.0 Q329.5,259.9 334.0,259.7 L356.0,258.4 Q360.5,258.2 356.3,256.5 L340.7,250.0 Q336.5,248.3 341.0,247.9 L361.0,245.8 Q365.5,245.4 361.3,243.9 L342.5,237.3 Q338.3,235.8 342.8,235.3 L363.7,233.2 Q368.2,232.7 363.9,231.2 L344.6,224.7 Q340.3,223.2 344.7,222.1 L369.5,215.7" fill="none" stroke="#4f7fb4" stroke-width="2.3" stroke-linecap="round" stroke-linejoin="round"/>
<path d="M356.8,211.4 L369.5,215.7 L367,226.6" fill="none" stroke="#4f7fb4" stroke-width="2.3" stroke-linecap="round" stroke-linejoin="round"/>
</svg>
</body></html>
